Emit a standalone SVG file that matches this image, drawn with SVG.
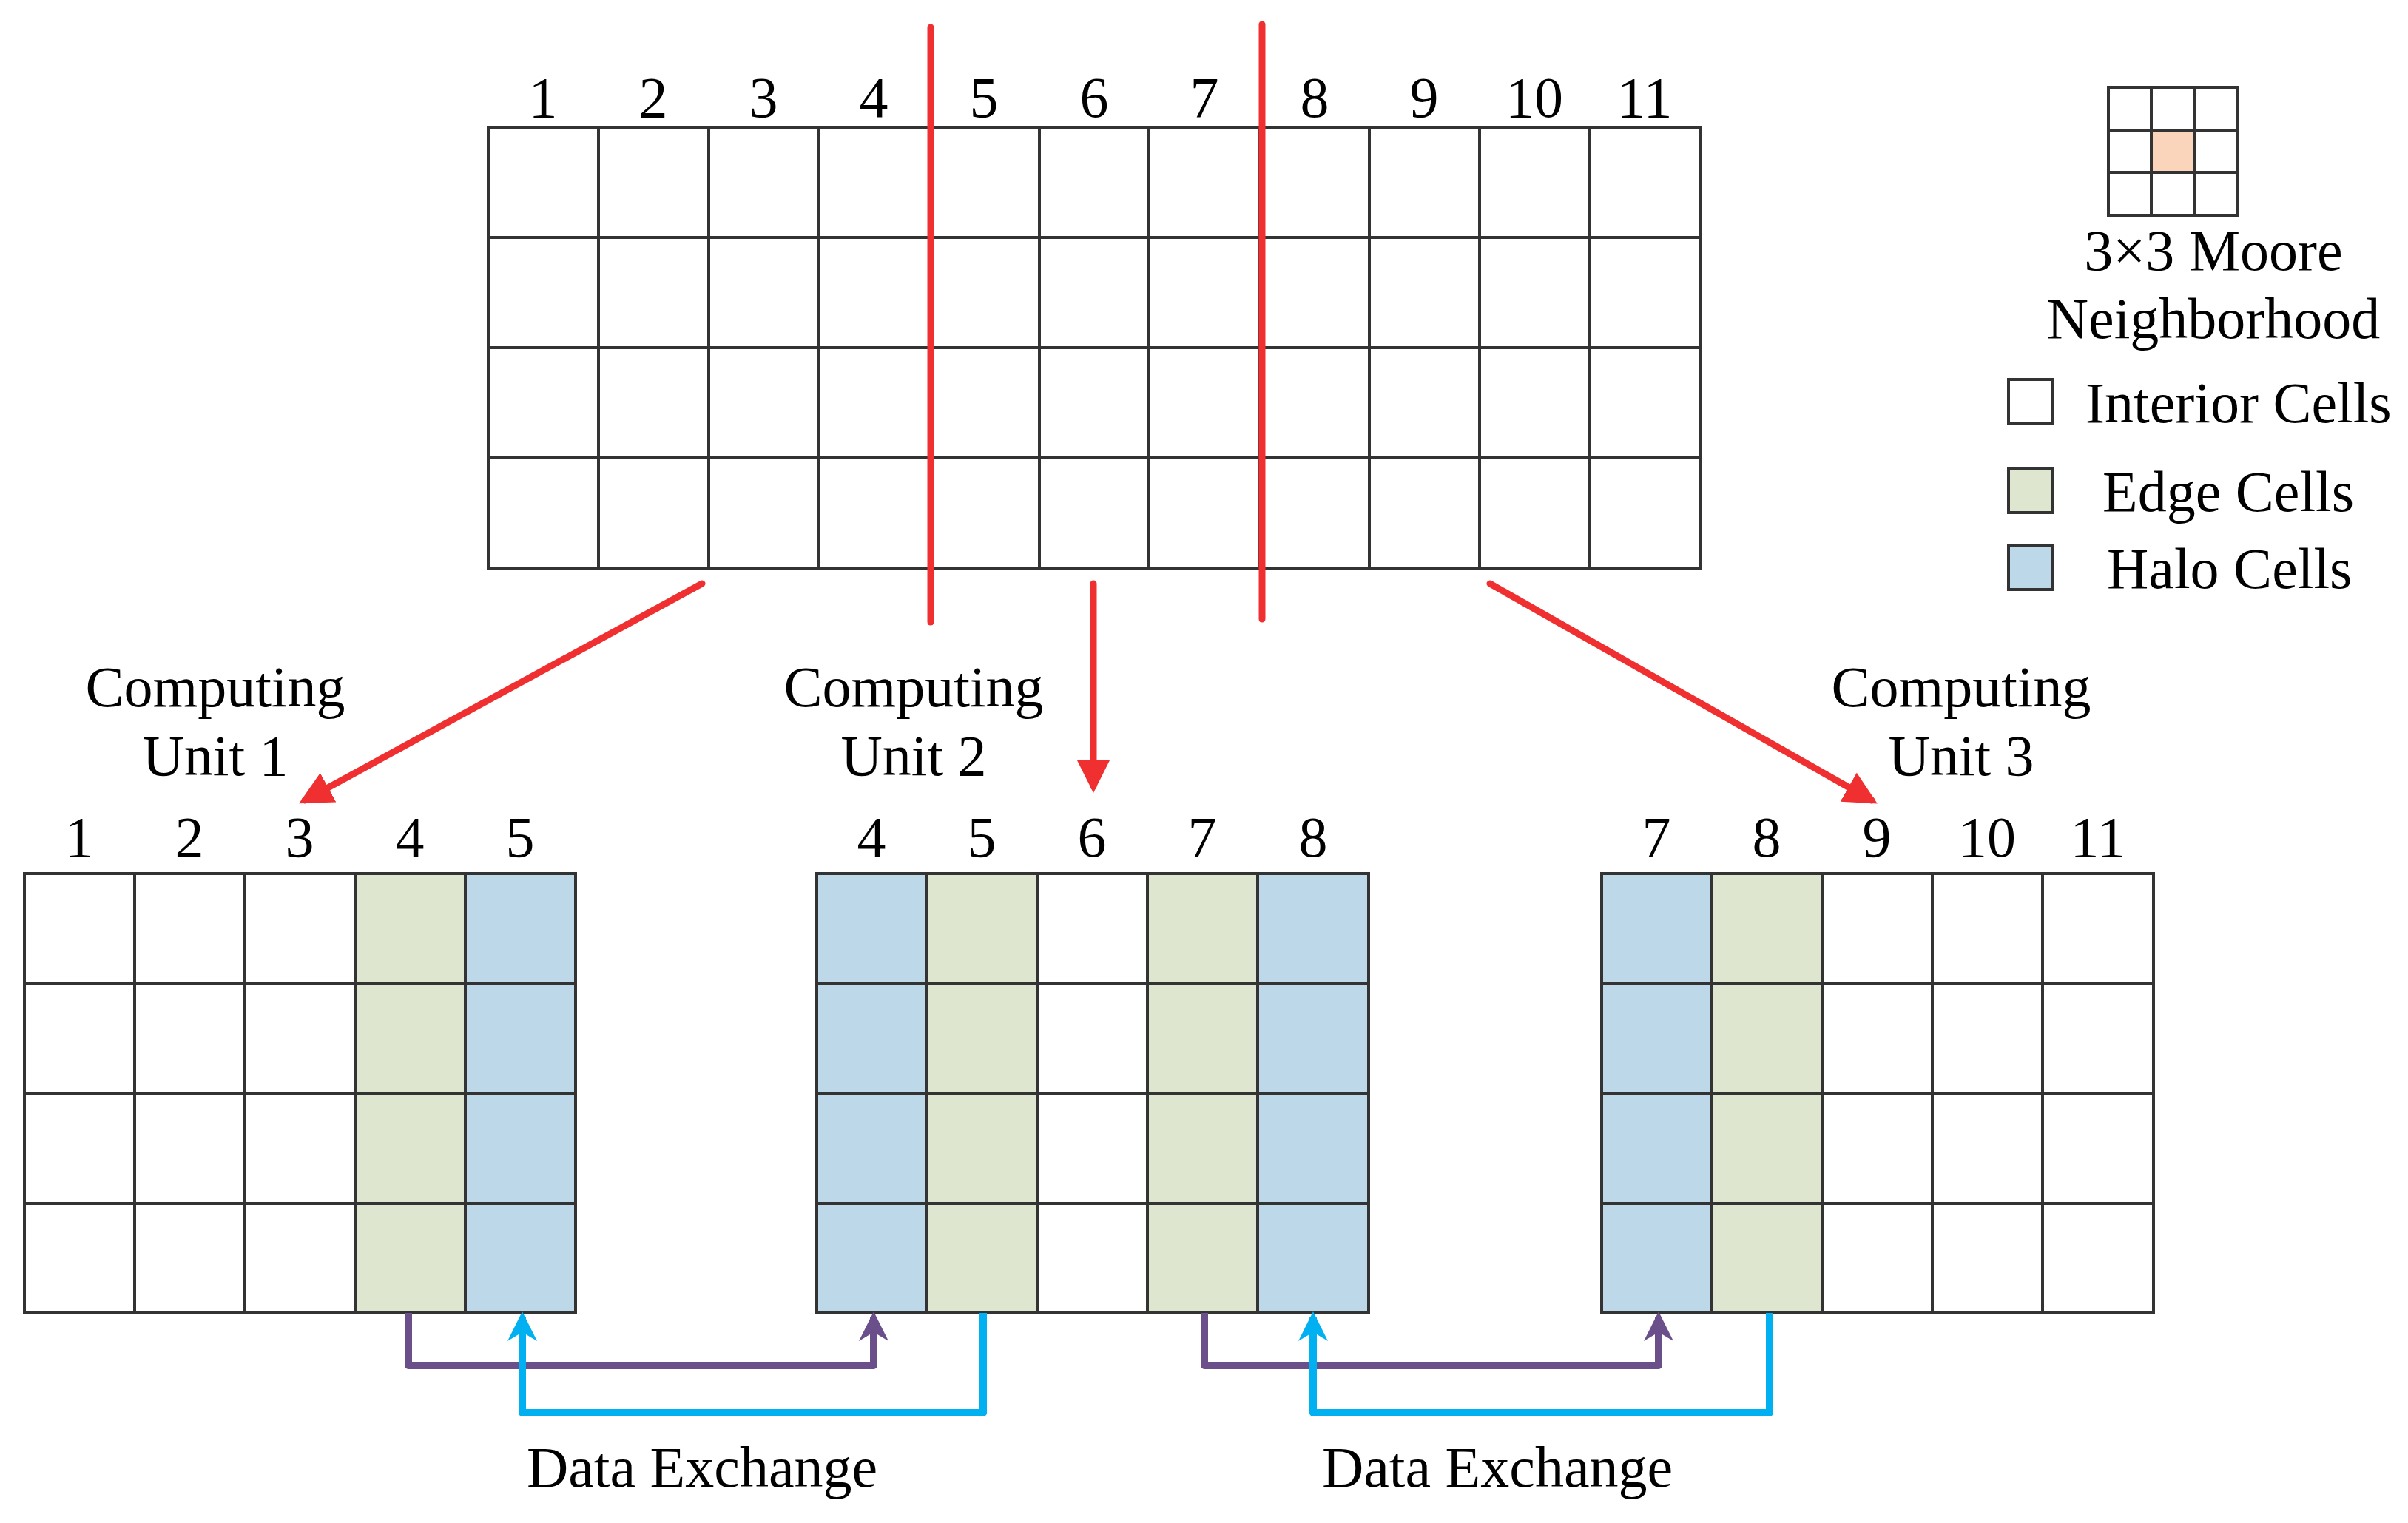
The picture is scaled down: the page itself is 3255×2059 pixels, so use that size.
<svg xmlns="http://www.w3.org/2000/svg" width="3255" height="2059" viewBox="0 0 3255 2059" font-family="'Liberation Serif', 'Times New Roman', serif">
<style>
text{font-family:'Liberation Serif','Times New Roman',serif;font-size:78px;fill:#000;text-anchor:middle}
.g{stroke:#333;stroke-width:4;fill:none}
.w{fill:#fff}.e{fill:#dfe6cf}.h{fill:#bdd8e9}
.red{stroke:#f03030;stroke-width:9;stroke-linecap:round;fill:none}
.pu{stroke:#6a4f8a;stroke-width:10;fill:none;stroke-linejoin:round}
.bl{stroke:#00b0f0;stroke-width:10;fill:none;stroke-linejoin:round}
</style>
<defs>
<marker id="ar" viewBox="0 0 10 10" refX="8" refY="5" markerWidth="5" markerHeight="5" orient="auto" markerUnits="strokeWidth"><path d="M0,0L10,5L0,10z" fill="#f03030"/></marker>
<marker id="ap" viewBox="0 0 10 10" refX="8" refY="5" markerWidth="4" markerHeight="4" orient="auto" markerUnits="strokeWidth"><path d="M0,0L10,5L0,10L3,5z" fill="#6a4f8a"/></marker>
<marker id="ab" viewBox="0 0 10 10" refX="8" refY="5" markerWidth="4" markerHeight="4" orient="auto" markerUnits="strokeWidth"><path d="M0,0L10,5L0,10L3,5z" fill="#00b0f0"/></marker>
</defs>
<rect width="3255" height="2059" fill="#fff"/>
<g id="top-grid">
<rect x="660" y="172" width="1638" height="596" class="g w"/>
<path class="g" d="M809,172V768M958,172V768M1107,172V768M1256,172V768M1405,172V768M1553,172V768M1702,172V768M1851,172V768M2000,172V768M2149,172V768M660,321H2298M660,470H2298M660,619H2298"/>
<text x="734" y="158">1</text><text x="883" y="158">2</text><text x="1032" y="158">3</text><text x="1181" y="158">4</text><text x="1330" y="158">5</text><text x="1479" y="158">6</text><text x="1628" y="158">7</text><text x="1777" y="158">8</text><text x="1925" y="158">9</text><text x="2074" y="158">10</text><text x="2223" y="158">11</text>
</g>
<g id="unit1">
<text x="291" y="955">Computing</text><text x="291" y="1048">Unit 1</text>
<rect x="33" y="1181" width="447" height="594" class="w"/>
<rect x="480" y="1181" width="149" height="594" class="e"/>
<rect x="629" y="1181" width="149" height="594" class="h"/>
<rect x="33" y="1181" width="745" height="594" class="g"/>
<path class="g" d="M182,1181V1775M331,1181V1775M480,1181V1775M629,1181V1775M33,1330H778M33,1478H778M33,1627H778"/>
<text x="107" y="1158">1</text><text x="256" y="1158">2</text><text x="405" y="1158">3</text><text x="554" y="1158">4</text><text x="703" y="1158">5</text>
</g>
<g id="unit2">
<text x="1235" y="955">Computing</text><text x="1235" y="1048">Unit 2</text>
<rect x="1104" y="1181" width="149" height="594" class="h"/>
<rect x="1253" y="1181" width="149" height="594" class="e"/>
<rect x="1402" y="1181" width="149" height="594" class="w"/>
<rect x="1551" y="1181" width="149" height="594" class="e"/>
<rect x="1700" y="1181" width="150" height="594" class="h"/>
<rect x="1104" y="1181" width="746" height="594" class="g"/>
<path class="g" d="M1253,1181V1775M1402,1181V1775M1551,1181V1775M1700,1181V1775M1104,1330H1850M1104,1478H1850M1104,1627H1850"/>
<text x="1178" y="1158">4</text><text x="1327" y="1158">5</text><text x="1476" y="1158">6</text><text x="1625" y="1158">7</text><text x="1775" y="1158">8</text>
</g>
<g id="unit3">
<text x="2651" y="955">Computing</text><text x="2651" y="1048">Unit 3</text>
<rect x="2165" y="1181" width="149" height="594" class="h"/>
<rect x="2314" y="1181" width="149" height="594" class="e"/>
<rect x="2463" y="1181" width="448" height="594" class="w"/>
<rect x="2165" y="1181" width="746" height="594" class="g"/>
<path class="g" d="M2314,1181V1775M2463,1181V1775M2612,1181V1775M2761,1181V1775M2165,1330H2911M2165,1478H2911M2165,1627H2911"/>
<text x="2239" y="1158">7</text><text x="2388" y="1158">8</text><text x="2537" y="1158">9</text><text x="2686" y="1158">10</text><text x="2836" y="1158">11</text>
</g>
<g id="legend">
<rect x="2850" y="118" width="175" height="173" class="g w"/>
<rect x="2908" y="176" width="59" height="57" fill="#fbd5bb"/>
<path class="g" d="M2908,118V291M2967,118V291M2850,176H3025M2850,233H3025"/>
<text x="2992" y="365">3×3 Moore</text><text x="2992" y="457">Neighborhood</text>
<rect x="2715" y="513" width="60" height="60" class="g w"/>
<text x="2819" y="571" style="text-anchor:start">Interior Cells</text>
<rect x="2715" y="633" width="60" height="60" class="g e"/>
<text x="2842" y="691" style="text-anchor:start">Edge Cells</text>
<rect x="2715" y="737" width="60" height="60" class="g h"/>
<text x="2848" y="795" style="text-anchor:start">Halo Cells</text>
</g>
<g id="connectors">
<line class="red" x1="1258" y1="37" x2="1258" y2="841"/>
<line class="red" x1="1706" y1="33" x2="1706" y2="837"/>
<line class="red" x1="949" y1="789" x2="412" y2="1082" marker-end="url(#ar)"/>
<line class="red" x1="1478" y1="789" x2="1478" y2="1063" marker-end="url(#ar)"/>
<line class="red" x1="2014" y1="789" x2="2530" y2="1082" marker-end="url(#ar)"/>
<path class="pu" d="M552,1775V1846H1181V1781" marker-end="url(#ap)"/>
<path class="bl" d="M1329,1775V1910H706V1781" marker-end="url(#ab)"/>
<path class="pu" d="M1628,1775V1846H2242V1781" marker-end="url(#ap)"/>
<path class="bl" d="M2392,1775V1910H1775V1781" marker-end="url(#ab)"/>
<text x="949" y="2010">Data Exchange</text>
<text x="2024" y="2010">Data Exchange</text>
</g>
</svg>
